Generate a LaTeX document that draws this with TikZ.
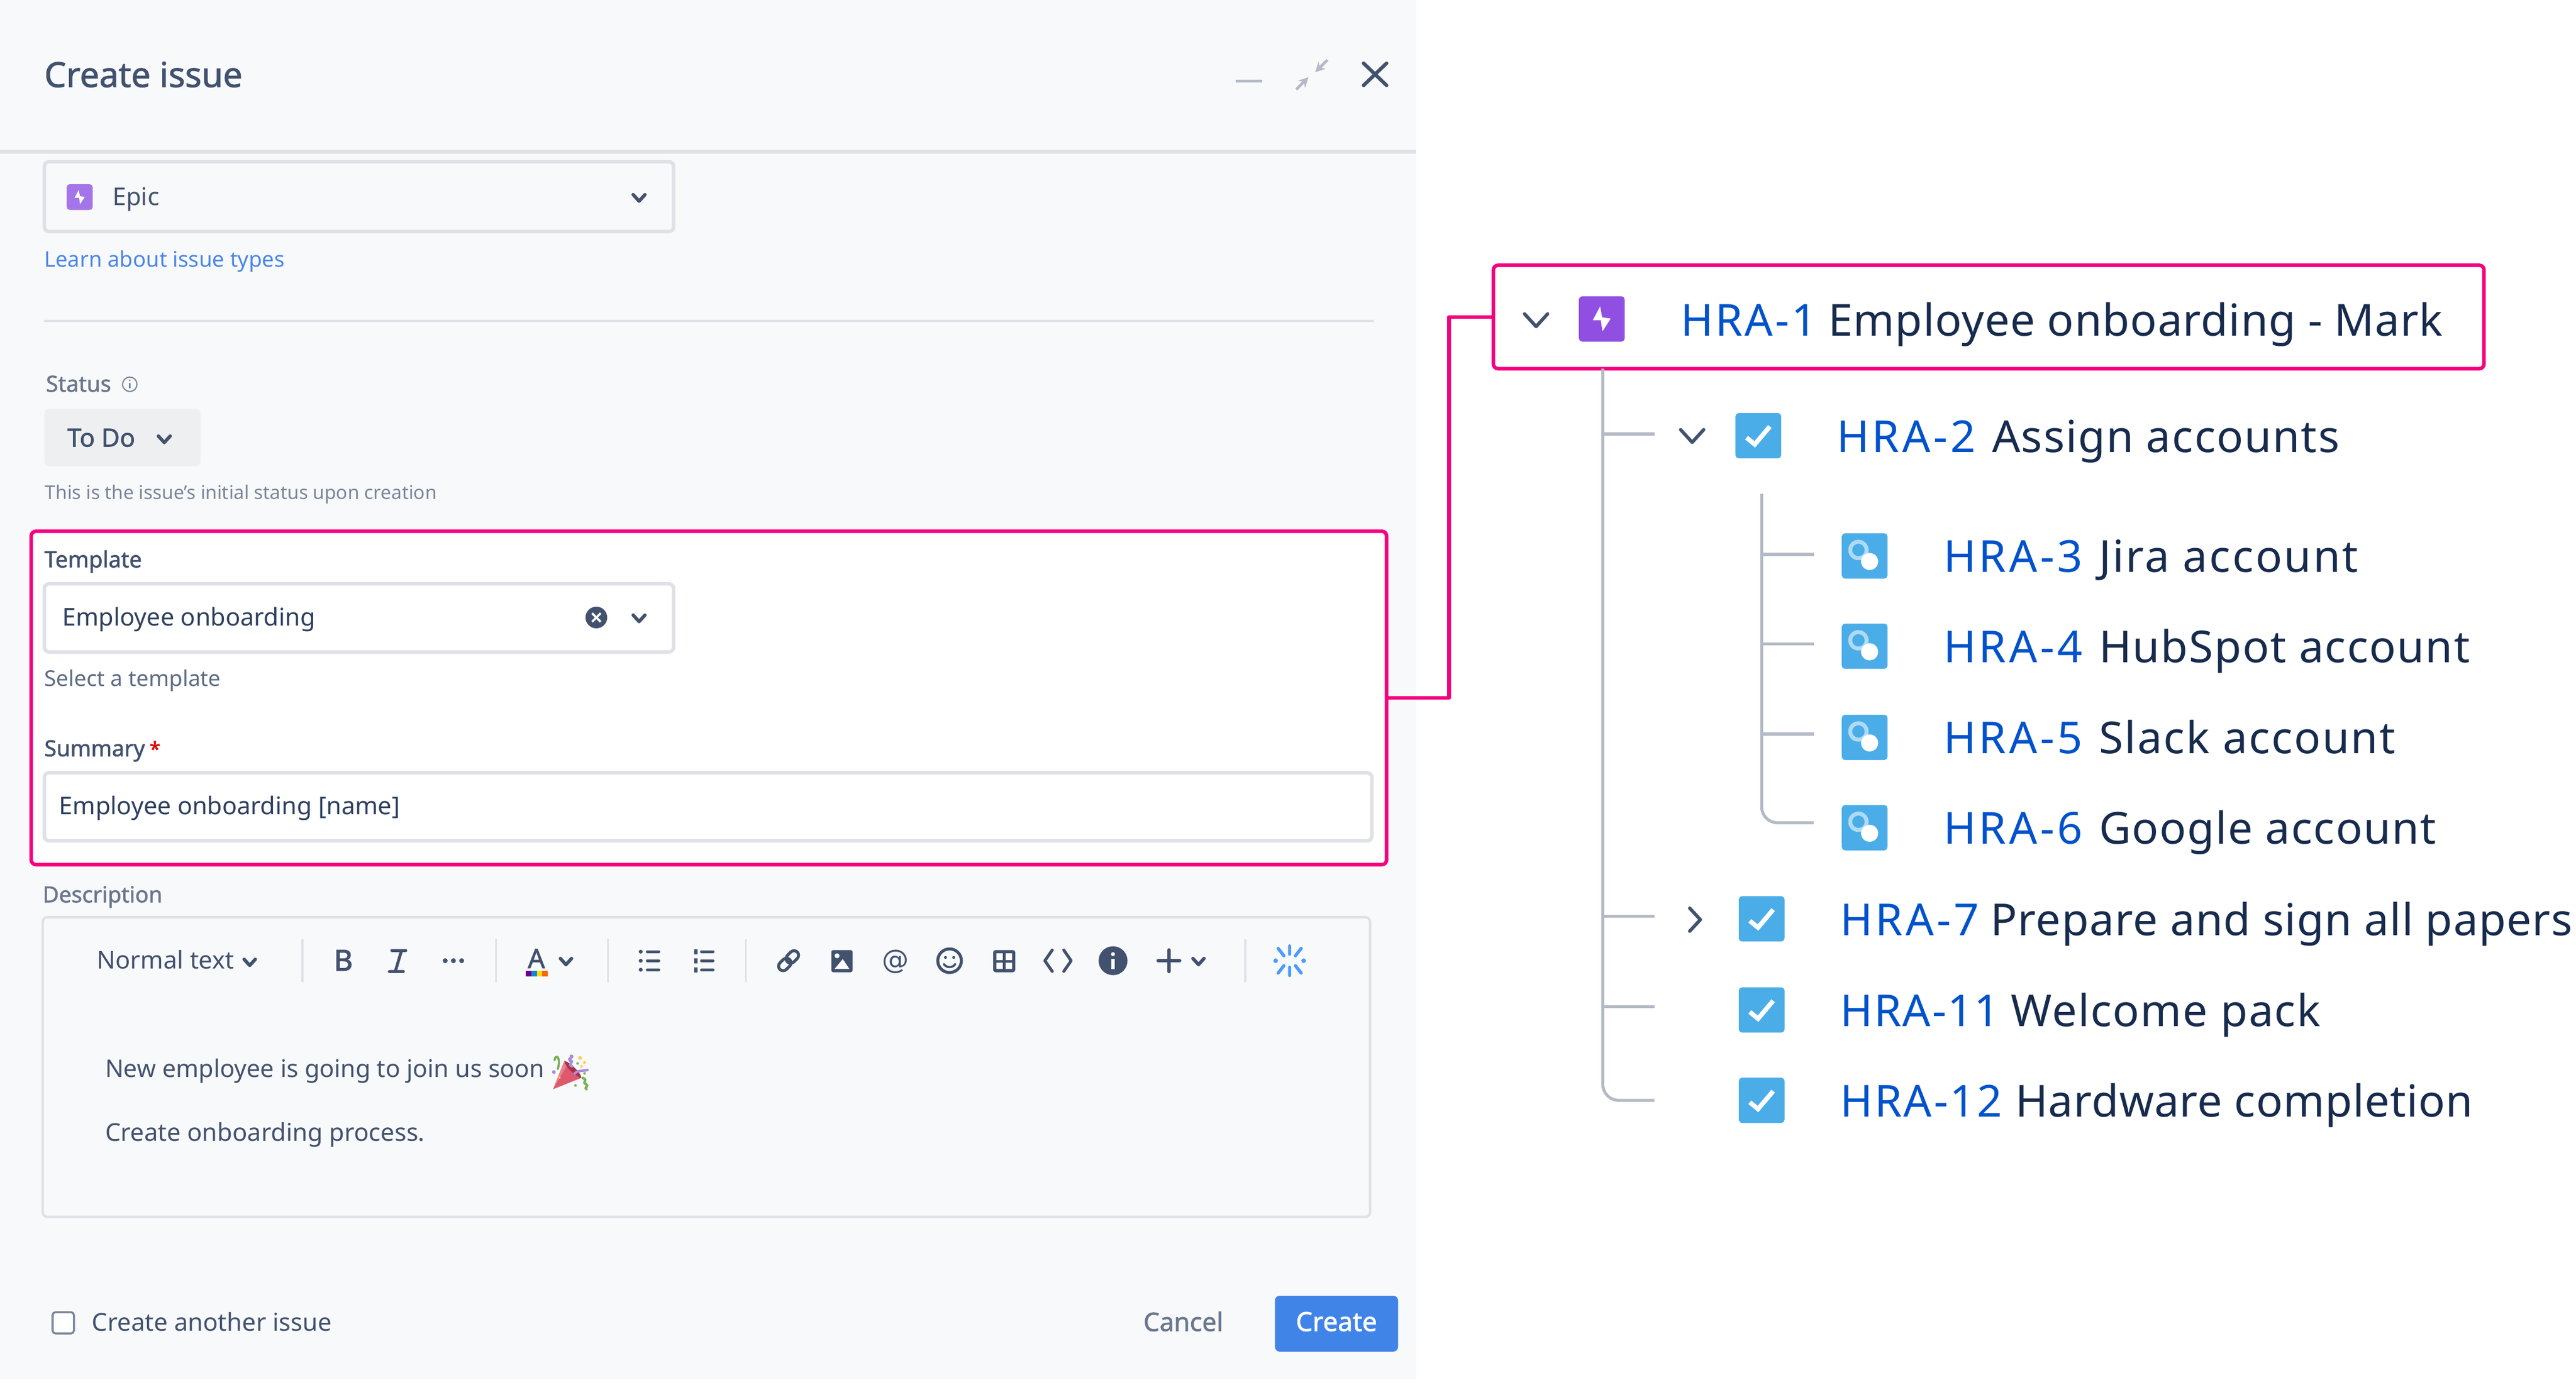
\documentclass[tikz,border=0pt]{standalone}
\usepackage{fontspec}
\setmainfont{Noto Sans}
\newfontfamily\atfont{DejaVu Sans}
\newfontfamily\semib[FakeBold=1.5]{Noto Sans}
\newfontfamily\heavyb[FakeBold=2.6]{Noto Sans}
\usetikzlibrary{arrows.meta,calc}
\definecolor{panel}{HTML}{F8F9FB}
\definecolor{rulegray}{HTML}{DFE1E6}
\definecolor{slate}{HTML}{42526E}
\definecolor{midgray}{HTML}{6B778C}
\definecolor{softgray}{HTML}{7A869A}
\definecolor{treegray}{HTML}{B3BAC5}
\definecolor{pinkline}{HTML}{F5007F}
\definecolor{linkblue}{HTML}{0052CC}
\definecolor{lightlink}{HTML}{4A86E8}
\definecolor{ink}{HTML}{172B4D}
\definecolor{epicpurple}{HTML}{904EE2}
\definecolor{epicsoft}{HTML}{A475E8}
\definecolor{taskblue}{HTML}{4BADE8}
\definecolor{btnblue}{HTML}{4084E8}
\definecolor{sparkblue}{HTML}{4C9AFF}
\definecolor{conemain}{HTML}{DD5A6D}
\definecolor{conelight}{HTML}{E8818F}
\definecolor{conedark}{HTML}{A8304A}
\definecolor{popgreen}{HTML}{77B255}
\definecolor{popviolet}{HTML}{AA8DD8}
\definecolor{popyellow}{HTML}{FFCC4D}
\newcommand{\fs}[1]{\fontsize{#1}{#1}\selectfont}
\newlength{\ux}\setlength{\ux}{0.029062cm}
% row text: id spacing, kern after id (picture units), tail spacing, id, tail
\newcommand{\rowline}[5]{{\addfontfeature{LetterSpace=#1}\textcolor{linkblue}{#4}}\kern#2\ux{} {\addfontfeature{LetterSpace=#3}#5}}
% box node from corner coordinates
\newcommand{\boxnode}[6]{\node[#2,minimum width={((#5)-(#3))*\ux},minimum height={((#6)-(#4))*\ux}] (#1) at ({((#3)+(#5))/2},{((#4)+(#6))/2}) {};}
\newcommand{\chevd}[3]{\draw[chevline] (#1-#3,#2-#3*0.55) -- (#1,#2+#3*0.55) -- (#1+#3,#2-#3*0.55);}
\newcommand{\epicicon}[5]{% name cx cy colour scale
  \boxnode{#1}{iconbox,fill=#4}{#2-13.9*#5}{#3-13.8*#5}{#2+13.9*#5}{#3+13.8*#5}
  \fill[white] (#2-1*#5,#3-7.6*#5) -- (#2-5.5*#5,#3+0.8*#5) -- (#2-0.6*#5,#3+0.8*#5) -- (#2+0.4*#5,#3+7.6*#5) -- (#2+5.4*#5,#3-0.2*#5) -- (#2+0.2*#5,#3-1*#5) -- cycle;}
\newcommand{\taskicon}[3]{% name cx cy
  \boxnode{#1}{iconbox,fill=taskblue}{#2-13.9}{#3-13.8}{#2+13.9}{#3+13.8}
  \draw[white,line width=2.3pt] (#2-7.2,#3+1.2) -- (#2-2.2,#3+5.3) -- (#2+7,#3-5.6);}
\newcommand{\subicon}[3]{% name cx cy
  \boxnode{#1}{iconbox,fill=taskblue}{#2-13.9}{#3-13.8}{#2+13.9}{#3+13.8}
  \draw[white!55!taskblue,line width=2pt] (#2-3.8,#3-3.6) circle (5);
  \fill[white] (#2+3,#3+3.4) circle (5.2);}
\tikzset{
  x=0.029062cm,y=-0.029062cm,
  txt/.style={anchor=base west,inner sep=0pt,outer sep=0pt},
  txtc/.style={anchor=base,inner sep=0pt,outer sep=0pt},
  fieldbox/.style={draw=rulegray,line width=1.8pt,rounded corners=2.4pt,inner sep=0pt,outer sep=0pt},
  pinkbox/.style={draw=pinkline,fill=white,line width=1.8pt,rounded corners=2.4pt,inner sep=0pt,outer sep=0pt},
  iconbox/.style={rounded corners=1.6pt,inner sep=0pt,outer sep=0pt},
  chevline/.style={draw=slate,line width=1.7pt,line cap=round,line join=round},
  treeline/.style={draw=treegray,line width=1.5pt},
  pinkwire/.style={draw=pinkline,line width=1.8pt,line join=round},
  toolicon/.style={draw=slate,line width=1.5pt,line cap=round,line join=round},
  sepline/.style={draw=rulegray,line width=1pt},
  rowtext/.style={txt,text=ink,font=\fs{22.2}},
  body/.style={txt,text=slate,font=\fs{12.35}},
  label/.style={txt,text=midgray,font=\semib\fs{11.2}},
}
\begin{document}
\begin{tikzpicture}
\useasboundingbox (0,0) rectangle (1568,843.3);
\fill[white] (0,0) rectangle (1568,843.3);
\fill[panel] (0,0) rectangle (862,840);
% header
\node[txt,text=slate,font=\semib\fs{17.4}] (title) at (27,53) {Create issue};
\draw[draw=rulegray,line width=2pt] (0,92.5) -- (862,92.5);
\draw[draw=treegray,line width=1.5pt] (752,49.5) -- (768.5,49.5);
\draw[draw=treegray,line width=1.4pt,-{Stealth[length=5pt,width=5pt]}] (808,36.5) -- (800.5,44);
\draw[draw=treegray,line width=1.4pt,-{Stealth[length=5pt,width=5pt]}] (789,54.5) -- (796.5,47);
\draw[draw=slate,line width=1.8pt,line cap=round] (830,38.5) -- (844,52) (844,38.5) -- (830,52);
% issue type
\boxnode{typebox}{fieldbox}{27}{98.5}{410}{141}
\epicicon{typeicon}{48.5}{120}{epicsoft}{0.57}
\node[body] (typetext) at (68.5,125) {Epic};
\chevd{389}{120.5}{3.6}
\node[txt,text=lightlink,font=\fs{10.85}] (learn) at (27,162.5) {Learn about issue types};
\draw[draw=rulegray,line width=1.2pt] (27,195.5) -- (836,195.5);
% status
\node[label] (statuslabel) at (28,238.5) {Status};
\draw[draw=softgray,line width=0.6pt] (79,234) circle (4.4);
\fill[softgray] (79,231.6) circle (0.6);
\draw[draw=softgray,line width=0.7pt] (79,233.3) -- (79,236.5);
\boxnode{todobox}{fill=black!4!panel,rounded corners=2.4pt,inner sep=0pt}{27}{249}{122}{284}
\node[txt,text=slate,font=\semib\fs{12.7}] (todotext) at (41,272) {To Do};
\chevd{100}{267.5}{3.6}
\node[txt,text=softgray,font=\fs{9.5}] (statushelp) at (27.5,304) {This is the issue's initial status upon creation};
% template box
\boxnode{tmplbox}{pinkbox}{19}{323.5}{844}{526.5}
\node[txt,text=slate,font=\semib\fs{11.3}] (tmpllabel) at (27,345.5) {Template};
\boxnode{tmplfield}{fieldbox}{27}{355.5}{410}{397}
\node[body,text=ink!90!white,font=\fs{12.3}] (tmpltext) at (38,381) {Employee onboarding};
\fill[slate] (363,376) circle (6.6);
\draw[draw=white,line width=1.1pt] (360.4,373.4) -- (365.6,378.6) (365.6,373.4) -- (360.4,378.6);
\chevd{389}{376.5}{3.6}
\node[txt,text=midgray!85!ink,font=\fs{11}] (tmplhelp) at (27,418) {Select a template};
\node[txt,text=slate,font=\semib\fs{11.2}] (summarylabel) at (27,460.5) {Summary};
\node[txt,text=red!85!black,font=\semib\fs{10}] (summaryreq) at (91,460.5) {*};
\boxnode{summaryfield}{fieldbox}{27}{470.5}{835}{512}
\node[body,text=ink!90!white,font=\fs{12.3}] (summarytext) at (36,496) {Employee onboarding [name]};
% description
\node[label] (desclabel) at (26,549.5) {Description};
\boxnode{editor}{draw=rulegray,line width=1.2pt,rounded corners=2.4pt,inner sep=0pt}{26}{558.5}{834}{741}
\node[body] (normaltext) at (59,590) {Normal text};
\chevd{152}{586}{3.4}
\foreach \sx in {184,302,370,454,758} \draw[sepline] (\sx,572) -- (\sx,598);
% toolbar icons
\node[txtc,text=slate,font=\heavyb\fs{14.5}] (iconb) at (209,591) {B};
\draw[toolicon] (238.5,578.8) -- (247,578.8) (244.4,578.8) -- (240.6,591.6) (237,591.6) -- (245.5,591.6);
\foreach \dx in {271,276,281} \fill[slate] (\dx,585) circle (1.5);
\node[txtc,text=slate,font=\semib\fs{13.5}] (icona) at (326.5,589.5) {A};
\fill[purple!60!blue] (320,591) rectangle (323.5,594.5);
\fill[cyan!70!blue] (323.5,591) rectangle (327,594.5);
\fill[yellow!80!orange] (327,591) rectangle (330,594.5);
\fill[orange!80!red] (330,591) rectangle (333.5,594.5);
\chevd{344.5}{585.5}{3.4}
\foreach \ly in {579.5,585,590.5} {\fill[slate] (390,\ly) circle (1.2);\draw[toolicon] (394,\ly) -- (401,\ly);}
\foreach \ly in {579.5,585,590.5} {\fill[slate] (422.5,\ly-1.5) rectangle (424.5,\ly+1.5);\draw[toolicon] (427,\ly) -- (434,\ly);}
\begin{scope}[shift={(480,585)},rotate=45]
\draw[toolicon,rounded corners=2.4pt] (-7.5,-2.8) rectangle (1,2.8);
\draw[toolicon,rounded corners=2.4pt] (-1,-2.8) rectangle (7.5,2.8);
\end{scope}
\fill[slate,rounded corners=1pt] (506,578.5) rectangle (519,592);
\fill[white] (508,590) -- (513,584) -- (517,590) -- cycle;
\fill[white] (509.5,582) circle (1.5);
\node[txtc,text=slate,font=\atfont\fs{13.5}] (iconat) at (545,590) {@};
\draw[toolicon] (578,585) circle (7.2);
\fill[slate] (575.5,583) circle (0.9) (580.5,583) circle (0.9);
\draw[toolicon,line width=1.1pt] (574.5,587) .. controls (576,589.5) and (580,589.5) .. (581.5,587);
\fill[slate,rounded corners=1.2pt] (604.5,578.5) rectangle (618,592);
\fill[white] (606.5,580.5) rectangle (610.4,584.6) (612.2,580.5) rectangle (616,584.6) (606.5,586.2) rectangle (610.4,590) (612.2,586.2) rectangle (616,590);
\draw[toolicon] (640.5,578.5) -- (636,585) -- (640.5,591.5) (647.5,578.5) -- (652,585) -- (647.5,591.5);
\fill[slate] (677.5,585) circle (8.8);
\fill[white] (677.5,581) circle (1.2);
\draw[draw=white,line width=1.6pt] (677.5,584) -- (677.5,590);
\draw[toolicon,line width=1.8pt] (705,585) -- (718,585) (711.5,578.5) -- (711.5,591.5);
\chevd{729.5}{585.5}{3.4}
\draw[draw=sparkblue,line width=1.6pt,line cap=round] (785,576) -- (785,581) (785,589) -- (785,594)
  (778,577.5) -- (781.5,582) (792,577.5) -- (788.5,582) (778,592.5) -- (781.5,588) (792,592.5) -- (788.5,588);
\fill[sparkblue] (776.5,585) circle (1.4) (793.5,585) circle (1.4);
% editor body
\node[body,font=\fs{12.25}] (bodyone) at (64,656) {New employee is going to join us soon};
\node[body,font=\fs{12.4}] (bodytwo) at (64,695) {Create onboarding process.};
\begin{scope}[shift={(309.7,626.3)},scale=0.1147]
\fill[conemain] (235,322) -- (295,172) -- (385,262) -- cycle;
\fill[conelight] (235,322) -- (295,172) -- (312,190) -- cycle;
\fill[conedark] (295,172) .. controls (320,175) and (385,235) .. (385,262) .. controls (350,250) and (300,205) .. (295,172) -- cycle;
\draw[draw=popgreen,line width=1.1pt,line cap=round] (243,168) .. controls (245,135) and (280,145) .. (260,215);
\draw[draw=popviolet,line width=1.4pt,line cap=round] (330,145) .. controls (350,150) and (310,160) .. (325,170) .. controls (350,175) and (310,190) .. (335,200);
\draw[draw=popviolet,line width=1.3pt,line cap=round] (350,238) .. controls (365,222) and (395,225) .. (418,220);
\draw[draw=popgreen,line width=1.3pt,line cap=round] (392,262) .. controls (425,275) and (385,285) .. (410,295) .. controls (425,305) and (400,315) .. (412,322);
\fill[popviolet] (239,231) circle (10);
\fill[popyellow] (378,156) circle (10) (402,180) circle (8) (385,201) circle (7) (269,260) circle (6);
\fill[popgreen] (365,185) circle (7) (402,238) circle (7) (354,302) circle (7);
\end{scope}
% footer
\draw[draw=softgray,line width=1pt,rounded corners=1.5pt,fill=white] (32,799) rectangle (45,812);
\node[body,font=\fs{12.4}] (another) at (56,810.5) {Create another issue};
\node[txt,text=midgray,font=\semib\fs{12.9}] (cancel) at (696,810.5) {Cancel};
\boxnode{createbtn}{fill=btnblue,rounded corners=2.4pt,inner sep=0pt}{776}{789}{851}{823}
\node[txtc,text=white,font=\semib\fs{13.3}] (createtext) at (813.5,810.5) {Create};
% tree
\boxnode{epicrow}{pinkbox}{909}{161.5}{1512}{224.5}
\draw[pinkwire] (tmplbox.east) -- ++(38,0) |- (epicrow.west);
\chevd{935}{195}{7}
\epicicon{icona1}{975}{194.2}{epicpurple}{1}
\node[rowtext] (rowa) at (1023,204.5) {\rowline{4.8}{0}{1.5}{HRA-1}{Employee onboarding - Mark}};
\coordinate (maintop) at (975.6,224.5);
\coordinate (mainbend) at (975.6,670);
\coordinate (subtop) at (1072.3,300.7);
\draw[treeline,rounded corners=8pt] (maintop) -- (mainbend) -- (1007,670);
\foreach \by in {264.3,558,613} \draw[treeline] (975.6,\by) -- (1007,\by);
\draw[treeline,rounded corners=8pt] (subtop) -- (1072.3,501) -- (1104,501);
\foreach \by in {337.5,392,447} \draw[treeline] (1072.3,\by) -- (1104,\by);
\chevd{1030}{265.5}{7}
\taskicon{icona2}{1070.3}{265.3}
\node[rowtext] (rowb) at (1118,275.5) {\rowline{6.4}{3}{2.5}{HRA-2}{Assign accounts}};
\subicon{icona3}{1135}{338.5}
\node[rowtext] (rowc) at (1183,348.5) {\rowline{6.4}{3}{4.1}{HRA-3}{Jira account}};
\subicon{icona4}{1135}{393.5}
\node[rowtext] (rowd) at (1183,403.5) {\rowline{6.4}{3}{2.5}{HRA-4}{HubSpot account}};
\subicon{icona5}{1135}{449}
\node[rowtext] (rowe) at (1183,459) {\rowline{6.4}{3}{3.3}{HRA-5}{Slack account}};
\subicon{icona6}{1135}{504}
\node[rowtext] (rowf) at (1183,514) {\rowline{6.4}{3}{2.4}{HRA-6}{Google account}};
\draw[chevline] (1028.5,553) -- (1035,560) -- (1028.5,567);
\taskicon{icona7}{1072.3}{559.5}
\node[rowtext] (rowg) at (1120,569.5) {\rowline{6.4}{0}{1.7}{HRA-7}{Prepare and sign all papers}};
\taskicon{icona8}{1072.3}{615}
\node[rowtext] (rowh) at (1120,625) {\rowline{3}{0}{2.5}{HRA-11}{Welcome pack}};
\taskicon{icona9}{1072.3}{670}
\node[rowtext] (rowi) at (1120,680) {\rowline{4.2}{1}{1.2}{HRA-12}{Hardware completion}};
\end{tikzpicture}
\end{document}
